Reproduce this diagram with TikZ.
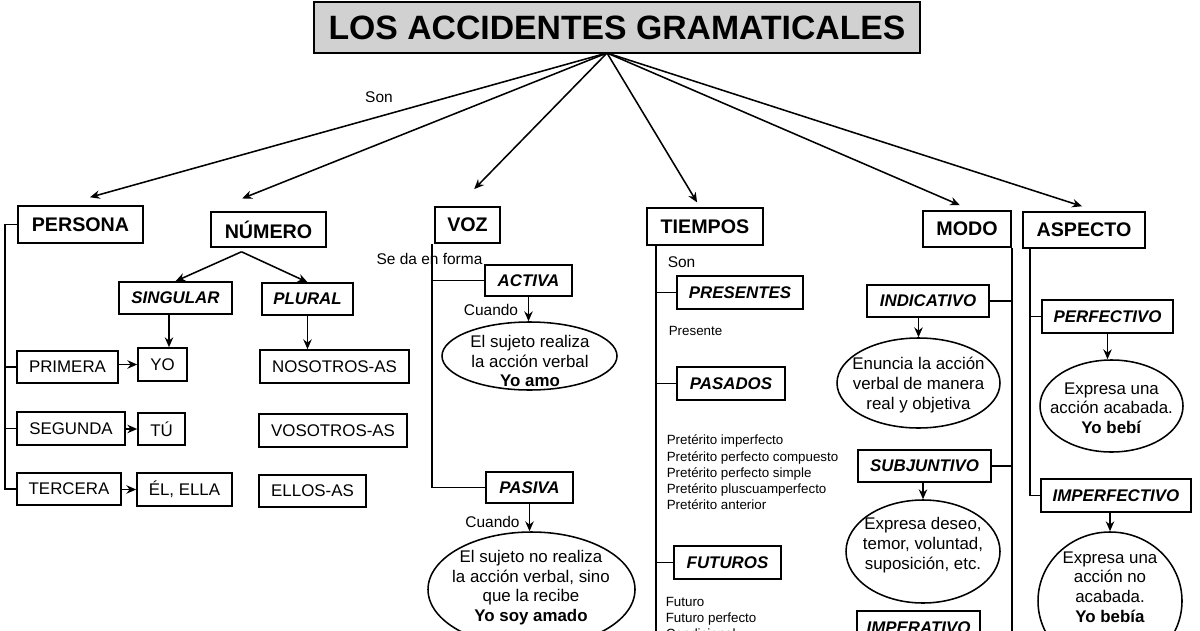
\documentclass[tikz,border=0pt]{standalone}
\usepackage{fontspec}
\setmainfont{Liberation Sans}
\setsansfont{Liberation Sans}
\usepackage{tikz}
\usetikzlibrary{positioning}
\usetikzlibrary{calc,arrows.meta}
\usetikzlibrary{shapes}
\tikzset{
  cm_base/.style = {align=center, inner sep=0pt, text centered,
    font=\sffamily},
  wh/.style 2 args = {minimum width=#1*0.025cm, minimum height=#2*0.025cm},
  cm_t/.style = {cm_base, rectangle, draw=black, fill=black!18, line width=1.2pt,
    font=\sffamily\bfseries\fontsize{24}{28}\selectfont},% titulo
  cm_n/.style = {cm_base, rectangle, draw=black, line width=1.1pt,
    font=\sffamily\bfseries\fontsize{14}{16}\selectfont},% accidente
  cm_s/.style = {cm_base, rectangle, draw=black, line width=1.1pt,
    font=\sffamily\bfseries\itshape\fontsize{12}{14}\selectfont},% subtipo
  cm_p/.style = {cm_base, rectangle, draw=black, line width=1.1pt,
    font=\sffamily\fontsize{12}{14}\selectfont},% caja simple
  cm_e/.style = {cm_base, ellipse, draw=black, line width=1.1pt},% elipse
  cm_x/.style = {cm_base, font=\sffamily\fontsize{12}{14}\selectfont},% texto de elipse
  cm_l/.style = {cm_base, font=\sffamily\fontsize{11}{13}\selectfont},% etiqueta
  cm_li/.style = {cm_base, align=left, anchor=west,
    font=\sffamily\fontsize{9.5}{11.6}\selectfont}% lista
}
\begin{document}
\begin{tikzpicture}[>={Stealth[length=7pt,width=6pt]}, x=0.025cm, y=-0.025cm, line width=1.1pt]
\useasboundingbox (0,0) rectangle (1200,630);
\clip (0,0) rectangle (1200,630);
\node [cm_t, wh={606}{51}] (tit) at (617,27.5) {LOS ACCIDENTES GRAMATICALES};
\node [cm_l] (son) at (379,97) {Son};
% accidentes
\node [cm_n, wh={125}{37}] (persona) at (80.5,224.5) {PERSONA};
\node [cm_n, wh={115}{35}] (numero) at (268.5,229.5) {NÚMERO};
\node [cm_n, wh={65}{36}] (voz) at (467.5,225) {VOZ};
\node [cm_n, wh={116}{37}] (tiempos) at (705,226.5) {TIEMPOS};
\node [cm_n, wh={88}{36}] (modo) at (967,229) {MODO};
\node [cm_n, wh={122}{36}] (aspecto) at (1084,230) {ASPECTO};
% persona y numero
\node [cm_s, wh={113}{32}] (singular) at (175.5,298) {SINGULAR};
\node [cm_s, wh={91}{32}] (plural) at (307.5,299) {PLURAL};
\node [cm_p, wh={101}{32}] (primera) at (67.5,367) {PRIMERA};
\node [cm_p, wh={49}{33}] (yo) at (162.5,364.5) {YO};
\node [cm_p, wh={149}{33}] (nosotros) at (334.5,366.5) {NOSOTROS-AS};
\node [cm_p, wh={108}{33}] (segunda) at (71,428.5) {SEGUNDA};
\node [cm_p, wh={47}{32}] (tu) at (161.5,429) {TÚ};
\node [cm_p, wh={148}{33}] (vosotros) at (333,430.5) {VOSOTROS-AS};
\node [cm_p, wh={104}{32}] (tercera) at (69,489) {TERCERA};
\node [cm_p, wh={95}{33}] (el) at (184.5,489.5) {ÉL, ELLA};
\node [cm_p, wh={107}{32}] (ellos) at (312.5,491) {ELLOS-AS};
% voz
\node [cm_l] (seda) at (429.5,259) {Se da en forma};
\node [cm_s, wh={87}{31}] (activa) at (528.5,280.5) {ACTIVA};
\node [cm_l] (cuando_a) at (491,310) {Cuando};
\node [cm_e, wh={175}{68}] (e_act) at (529.5,356) {};
\node [cm_x] (t_act) at (530,361) {El sujeto realiza\\la acción verbal\\\textbf{Yo amo}};
\node [cm_s, wh={87}{31}] (pasiva) at (529.5,487.5) {PASIVA};
\node [cm_l] (cuando_p) at (492.5,522) {Cuando};
\node [cm_e, wh={207}{115}] (e_pas) at (531.5,589.5) {};
\node [cm_x] (t_pas) at (531,587.5) {El sujeto no realiza\\la acción verbal, sino\\que la recibe\\\textbf{Yo soy amado}};
% tiempos
\node [cm_l] (son_t) at (681.5,262) {Son};
\node [cm_s, wh={126}{33}] (presentes) at (740,292.5) {PRESENTES};
\node [cm_li] (l_pres) at (668,331) {Presente};
\node [cm_s, wh={108}{33}] (pasados) at (731,383.5) {PASADOS};
\node [cm_li] (l_pas) at (666,472.5) {Pretérito imperfecto\\Pretérito perfecto compuesto\\Pretérito perfecto simple\\Pretérito pluscuamperfecto\\Pretérito anterior};
\node [cm_s, wh={107}{33}] (futuros) at (727.5,562.5) {FUTUROS};
\node [cm_li] (l_fut) at (665,618) {Futuro\\Futuro perfecto\\Condicional};
% modo
\node [cm_s, wh={122}{32}] (indicativo) at (928,301) {INDICATIVO};
\node [cm_e, wh={163}{90}] (e_ind) at (918.5,383) {};
\node [cm_x] (t_ind) at (918.5,385) {Enuncia la acción\\verbal de manera\\real y objetiva};
\node [cm_s, wh={133}{32}] (subjuntivo) at (924.5,466) {SUBJUNTIVO};
\node [cm_e, wh={154}{103}] (e_sub) at (923,551.5) {};
\node [cm_x] (t_sub) at (923,545) {Expresa deseo,\\temor, voluntad,\\suposición, etc.};
\node [cm_s, wh={123}{33}] (imperativo) at (918.5,627.5) {IMPERATIVO};
% aspecto
\node [cm_s, wh={131}{33}] (perfectivo) at (1107.5,316.5) {PERFECTIVO};
\node [cm_e, wh={143}{92}] (e_per) at (1111.5,406) {};
\node [cm_x] (t_per) at (1111.5,408) {Expresa una\\acción acabada.\\\textbf{Yo bebí}};
\node [cm_s, wh={150}{33}] (imperfectivo) at (1116,495.5) {IMPERFECTIVO};
\node [cm_e, wh={144}{138}] (e_imp) at (1110,601) {};
\node [cm_x] (t_imp) at (1110,587) {Expresa una\\acción no\\acabada.\\\textbf{Yo bebía}};

\coordinate (o) at (607,53);
\coordinate (bot) at (0,640);
\draw[->, shorten >=21pt] (o) -- ($(persona.north)+(-19,0)$);
\draw[->, shorten >=24.5pt] (o) -- (numero.north west);
\draw[->, shorten >=17pt] (o) -- ($(voz.north)+(-10,0)$);
\draw[->, shorten >=4pt] (o) -- ($(tiempos.north)+(-5,0)$);
\draw[->, shorten >=9pt] (o) -- ($(modo.north)+(4.5,0)$);
\draw[->, shorten >=11.5pt] (o) -- ($(aspecto.north)+(13.4,0)$);
% persona
\coordinate (pl) at ($(persona.west)+(-12,0)$);
\draw (persona.west) -- (pl) |- (tercera.west);
\draw (pl |- primera.west) -- (primera.west);
\draw (pl |- segunda.west) -- (segunda.west);
\draw[->] (yo.west -| primera.east) -- (yo.west);
\draw[->] (tu.west -| segunda.east) -- (tu.west);
\draw[->] (el.west -| tercera.east) -- (el.west);
% numero
\coordinate (n0) at ($(numero.south)+(-27,4)$);
\draw[->] (n0) -- (singular.north);
\draw[->] (n0) -- (plural.north);
\draw[->] ($(singular.south)+(-6.5,0)$) -- ($(yo.north)+(6.5,0)$);
\draw[->] (plural.south) -- (plural.south |- nosotros.north);
% voz
\coordinate (vz) at ($(voz.south west)+(-2,0)$);
\draw (vz) |- (pasiva.west);
\draw (vz |- activa.west) -- (activa.west);
\draw[->] (activa.south) -- (activa.south |- e_act.north);
\draw[->] (pasiva.south) -- (pasiva.south |- e_pas.north);
% tiempos
\coordinate (tp) at ($(tiempos.south west)+(10,0)$);
\draw (tp) -- (tp |- bot);
\draw (tp |- presentes.west) -- (presentes.west);
\draw (tp |- pasados.west) -- (pasados.west);
\draw (tp |- futuros.west) -- (futuros.west);
% modo
\draw (modo.south east) -- (modo.south east |- bot);
\draw (indicativo.east) -- (indicativo.east -| modo.south east);
\draw (subjuntivo.east) -- (subjuntivo.east -| modo.south east);
\draw[->] (e_ind.north |- indicativo.south) -- (e_ind.north);
\draw[->] (e_sub.north |- subjuntivo.south) -- (e_sub.north);
% aspecto
\coordinate (as) at ($(aspecto.south west)+(8,0)$);
\draw (as) |- (imperfectivo.west);
\draw (as |- perfectivo.west) -- (perfectivo.west);
\draw[->] (perfectivo.south) -- (perfectivo.south |- e_per.north);
\draw[->] (e_imp.north |- imperfectivo.south) -- (e_imp.north);
\end{tikzpicture}
\end{document}
